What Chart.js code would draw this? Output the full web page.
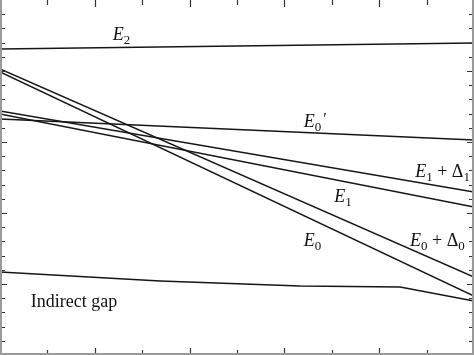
<!DOCTYPE html>
<html>
<head>
<meta charset="utf-8">
<script src="https://cdn.jsdelivr.net/npm/chart.js@4.4.1/dist/chart.umd.min.js"></script>
<style>
  html, body { margin: 0; padding: 0; background: #fff; }
  #wrap { width: 474px; height: 355px; position: relative; }
</style>
</head>
<body>
<div id="wrap"><canvas id="chart"></canvas></div>
<script>
// straight transitions run edge to edge
const edgeX = [0, 10]
const e2Y = [21.55, 21.97]
const e0pY = [16.62, 15.14]
const e1d1Y = [17.18, 11.48]
const e1Y = [16.97, 10.42]
const e0d0Y = [20.14, 5.49]
const e0Y = [19.93, 4.15]

// indirect gap bends near the right
const gapX = [0, 3.38, 6.33, 8.44, 10]
const gapY = [5.85, 5.21, 4.86, 4.79, 3.8]

const xTicks = [1, 2, 3, 4, 5, 6, 7, 8, 9]
const yTicks = [1, 2, 3, 4, 5, 6, 7, 8, 9, 10, 11, 12, 13, 14, 15, 16, 17, 18, 19, 20, 21, 22, 23, 24]

// curve labels: segments are [text, kind], i = italic, r = roman, s = subscript, p = prime
const labelText = [
  [['E', 'i'], ['2', 's']],
  [['E', 'i'], ['0', 's'], ['\u2032', 'p']],
  [['E', 'i'], ['1', 's'], [' + ', 'r'], ['\u0394', 'r'], ['1', 's']],
  [['E', 'i'], ['1', 's']],
  [['E', 'i'], ['0', 's']],
  [['E', 'i'], ['0', 's'], [' + ', 'r'], ['\u0394', 'r'], ['0', 's']],
  [['Indirect gap', 'r']]
]
const labelX = [2.38, 6.41, 8.76, 7.05, 6.41, 8.65, 0.65]
const labelY = [22.18, 16.06, 12.54, 10.75, 7.65, 7.65, 3.38]

const toPoints = (xs, ys) => xs.map((x, i) => ({ x, y: ys[i] }))

const lineSet = (data) => ({
  data,
  borderColor: '#161616',
  borderWidth: 1.5,
  pointRadius: 0,
  tension: 0,
  fill: false
})

const frameAndLabels = {
  id: 'frameAndLabels',
  afterDatasetsDraw(chart) {
    const { ctx, chartArea, scales } = chart
    const x = scales.x
    const y = scales.y
    ctx.save()

    // inward ticks on all four sides
    ctx.strokeStyle = '#333'
    ctx.lineWidth = 1.2
    ctx.beginPath()
    xTicks.forEach(v => {
      const px = Math.round(x.getPixelForValue(v)) + 0.5
      const len = v % 2 === 0 ? 7 : 5
      ctx.moveTo(px, chartArea.bottom)
      ctx.lineTo(px, chartArea.bottom - len)
      ctx.moveTo(px, chartArea.top)
      ctx.lineTo(px, chartArea.top + len)
    })
    yTicks.forEach(v => {
      const py = Math.round(y.getPixelForValue(v)) + 0.5
      const len = v % 5 === 0 ? 7 : 5
      ctx.moveTo(chartArea.left, py)
      ctx.lineTo(chartArea.left + len, py)
      ctx.moveTo(chartArea.right, py)
      ctx.lineTo(chartArea.right - len, py)
    })
    ctx.stroke()

    // frame (top edge is cut off in the original)
    ctx.strokeStyle = '#9a9a9a'
    ctx.lineWidth = 2
    ctx.beginPath()
    ctx.moveTo(chartArea.left + 1, chartArea.top)
    ctx.lineTo(chartArea.left + 1, chartArea.bottom - 1)
    ctx.lineTo(chartArea.right - 1, chartArea.bottom - 1)
    ctx.lineTo(chartArea.right - 1, chartArea.top)
    ctx.stroke()

    // labels
    ctx.fillStyle = '#111'
    ctx.textBaseline = 'alphabetic'
    ctx.textAlign = 'left'
    labelText.forEach((segs, i) => {
      let px = x.getPixelForValue(labelX[i])
      const py = y.getPixelForValue(labelY[i])
      segs.forEach(([t, kind]) => {
        let dy = 0
        if (kind === 'i') ctx.font = 'italic 18px "Liberation Serif", serif'
        else if (kind === 'r') ctx.font = '18px "Liberation Serif", serif'
        else if (kind === 's') { ctx.font = '13px "Liberation Serif", serif'; dy = 4 }
        else if (kind === 'p') { ctx.font = '16px "Liberation Serif", serif'; dy = -3; px += 2 }
        ctx.fillText(t, px, py + dy)
        px += ctx.measureText(t).width
      })
    })
    ctx.restore()
  }
}

const ctx = document.getElementById('chart')

const chart = new Chart(ctx, {
  type: 'line',
  data: {
    datasets: [
      lineSet(toPoints(edgeX, e2Y)),
      lineSet(toPoints(edgeX, e0pY)),
      lineSet(toPoints(edgeX, e1d1Y)),
      lineSet(toPoints(edgeX, e1Y)),
      lineSet(toPoints(edgeX, e0d0Y)),
      lineSet(toPoints(edgeX, e0Y)),
      lineSet(toPoints(gapX, gapY))
    ]
  },
  options: {
    responsive: true,
    maintainAspectRatio: false,
    animation: false,
    layout: { padding: 0 },
    plugins: {
      legend: { display: false },
      tooltip: { enabled: false }
    },
    scales: {
      x: { type: 'linear', min: 0, max: 10, display: false },
      y: { type: 'linear', min: 0, max: 25, display: false }
    }
  },
  plugins: [frameAndLabels]
});
</script>
</body>
</html>
